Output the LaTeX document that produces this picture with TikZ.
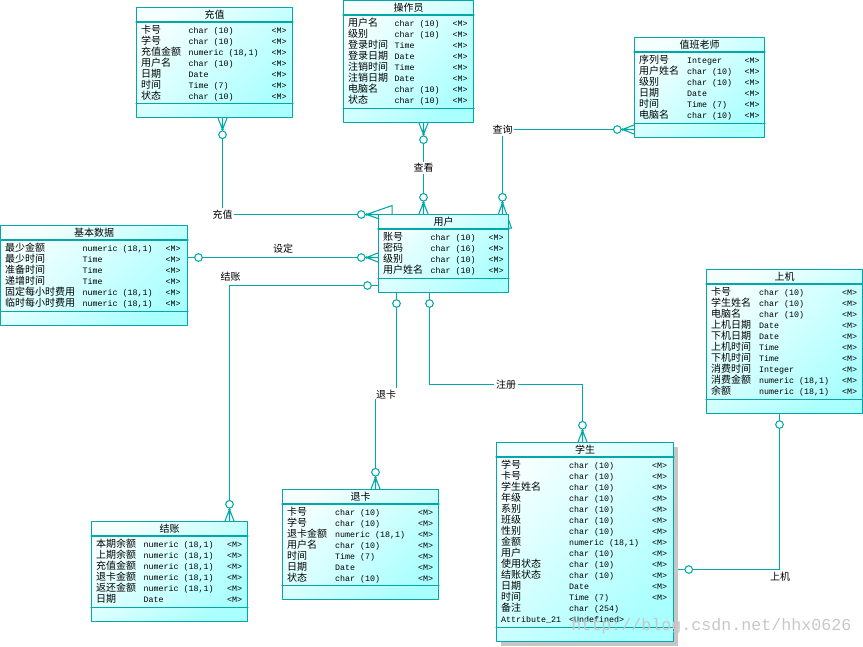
\documentclass[tikz,border=0pt]{standalone}
\usepackage{fontspec}
\setmonofont{Liberation Mono}
\newfontfamily\cjk{Noto Sans CJK SC}
\usetikzlibrary{calc,fit,backgrounds}
\definecolor{erline}{RGB}{0,168,168}
\definecolor{erlight}{RGB}{245,255,255}
\definecolor{erdeep}{RGB}{170,255,255}
\newcommand{\cjktxt}{\fontsize{7.5pt}{9pt}\selectfont\cjk}
\newcommand{\ttrow}{\fontsize{6.25pt}{8pt}\selectfont\ttfamily}
\tikzset{
	entbox/.style={draw=erline,thick,inner sep=0pt,top color=erlight,bottom color=erdeep,shading angle=45},
	rowtxt/.style={anchor=west,inner sep=0pt,text height=6.7pt,text depth=1pt},
	reltxt/.style={font=\cjktxt,inner sep=1pt},
	relline/.style={draw=erline,thick},
	crowo/.pic={\draw[relline] (0,0)--(11.5,0) (0,-4.5)--(11.5,0)--(0,4.5);
		\fill[erline] (11.5,0) circle [radius=1.3];
		\draw[relline,fill=white] (16.7,0) circle [radius=3.8];},
	crowwide/.pic={\draw[relline] (0,0)--(11.5,0) (-14.2,-9)--(11.5,0)--(-14.2,9)--cycle;
		\fill[erline] (11.5,0) circle [radius=1.3];
		\draw[relline,fill=white] (16.7,0) circle [radius=3.8];},
	circo/.pic={\draw[relline,fill=white] (10.5,0) circle [radius=3.8];}
}
% name, top left, bottom right, title, column offsets, rows
\newcommand{\entity}[9]{
	\node[entbox,fit={(#2,#3)(#4,#5)}] (#1) {};
	\draw[relline] ($(#1.north west)+(0,15)$)--($(#1.north east)+(0,15)$);
	\draw[relline] ($(#1.south west)+(0,-15)$)--($(#1.south east)+(0,-15)$);
	\node[font=\cjktxt,inner sep=0pt] (#1-t) at ($(#1.north)+(0,7.5)$) {#6};
	\foreach \nm/\tp/\mk [count=\ri] in {#9}{
		\node[rowtxt,font=\cjktxt] (#1-n\ri) at ($(#1.north west)+(5,{22.5+11*(\ri-1)})$) {\nm};
		\node[rowtxt,font=\ttrow] (#1-c\ri) at ($(#1.north west)+(#7,{22.5+11*(\ri-1)})$) {\tp};
		\node[rowtxt,font=\ttrow] (#1-m\ri) at ($(#1.north west)+(#8,{22.5+11*(\ri-1)})$) {\mk};
	}
}
\begin{document}
\begin{tikzpicture}[line join=round,line cap=round,x=0.75pt,y=-0.75pt]
	\useasboundingbox (0,0) rectangle (863,646);
	\entity{chongzhi}{136.5}{7.5}{292.5}{117.5}{充值}{52.5}{135.5}{
		卡号/char (10)/<M>,学号/char (10)/<M>,充值金额/{numeric (18,1)}/<M>,用户名/char (10)/<M>,
		日期/Date/<M>,时间/Time (7)/<M>,状态/char (10)/<M>}
	\entity{caozuo}{343.5}{0.5}{473.5}{122.5}{操作员}{51.5}{109.5}{
		用户名/char (10)/<M>,级别/char (10)/<M>,登录时间/Time/<M>,登录日期/Date/<M>,
		注销时间/Time/<M>,注销日期/Date/<M>,电脑名/char (10)/<M>,状态/char (10)/<M>}
	\entity{zhiban}{634.5}{37.5}{764.5}{137.5}{值班老师}{53}{110.5}{
		序列号/Integer/<M>,用户姓名/char (10)/<M>,级别/char (10)/<M>,日期/Date/<M>,
		时间/Time (7)/<M>,电脑名/char (10)/<M>}
	\entity{yonghu}{378.5}{214.5}{508.5}{292.5}{用户}{52.5}{110.5}{
		账号/char (10)/<M>,密码/char (16)/<M>,级别/char (10)/<M>,用户姓名/char (10)/<M>}
	\entity{jiben}{0.5}{225.5}{187.5}{325.5}{基本数据}{82.5}{165.5}{
		最少金额/{numeric (18,1)}/<M>,最少时间/Time/<M>,准备时间/Time/<M>,递增时间/Time/<M>,
		固定每小时费用/{numeric (18,1)}/<M>,临时每小时费用/{numeric (18,1)}/<M>}
	\entity{jiezhang}{91.5}{521.5}{247.5}{621.5}{结账}{52.5}{136}{
		本期余额/{numeric (18,1)}/<M>,上期余额/{numeric (18,1)}/<M>,充值金额/{numeric (18,1)}/<M>,
		退卡金额/{numeric (18,1)}/<M>,返还金额/{numeric (18,1)}/<M>,日期/Date/<M>}
	\entity{tuika}{282.5}{489.5}{438.5}{599.5}{退卡}{53}{136}{
		卡号/char (10)/<M>,学号/char (10)/<M>,退卡金额/{numeric (18,1)}/<M>,用户名/char (10)/<M>,
		时间/Time (7)/<M>,日期/Date/<M>,状态/char (10)/<M>}
	\fill[gray!45] (500.5,447) rectangle (678,646);
	\entity{xuesheng}{496.5}{442.5}{673.5}{641.5}{学生}{73}{156}{
		学号/char (10)/<M>,卡号/char (10)/<M>,学生姓名/char (10)/<M>,年级/char (10)/<M>,
		系别/char (10)/<M>,班级/char (10)/<M>,性别/char (10)/<M>,金额/{numeric (18,1)}/<M>,
		用户/char (10)/<M>,使用状态/char (10)/<M>,结账状态/char (10)/<M>,日期/Date/<M>,
		时间/Time (7)/<M>,备注/char (254)/{},{\ttrow Attribute\_21}/<Undefined>/{}}
	\entity{shangji}{706.5}{269.5}{862.5}{413.5}{上机}{53}{136}{
		卡号/char (10)/<M>,学生姓名/char (10)/<M>,电脑名/char (10)/<M>,上机日期/Date/<M>,
		下机日期/Date/<M>,上机时间/Time/<M>,下机时间/Time/<M>,消费时间/Integer/<M>,
		消费金额/{numeric (18,1)}/<M>,余额/{numeric (18,1)}/<M>}
	\node[reltxt] (lblcz) at (222.5,214.5) {充值};
	\node[reltxt] (lblck) at (423.5,168) {查看};
	\node[reltxt] (lblcx) at (502.5,129.5) {查询};
	\node[reltxt] (lblsd) at (283,249) {设定};
	\node[reltxt] (lbljz) at (230.5,277) {结账};
	\node[reltxt] (lbltk) at (386,394.5) {退卡};
	\node[reltxt] (lblzc) at (506,384.5) {注册};
	\node[reltxt] (lblsj) at (780,577) {上机};
	\coordinate (sd) at (283,257.5);
	\coordinate (jz) at (229.5,285.5);
	\coordinate (tka) at (396.5,388);
	\coordinate (tkb) at (375.5,399);
	\coordinate (zca) at (429.5,384.5);
	\coordinate (zcb) at (582.5,384.5);
	\coordinate (sj) at (779.5,569.5);
	\begin{scope}[on background layer]
		\draw[relline] (chongzhi.south -| lblcz)--(lblcz)--(lblcz -| yonghu.west);
		\draw[relline] (caozuo.south -| lblck)--(lblck)--(lblck |- yonghu.north);
		\draw[relline] (lblcx -| zhiban.west)--(lblcx)--(lblcx |- yonghu.north);
		\draw[relline] (sd -| jiben.east)--(sd -| yonghu.west);
		\draw[relline] (jz -| yonghu.west)--(jz)--(jz |- jiezhang.north);
		\draw[relline] (tka |- yonghu.south)--(tka);
		\draw[relline] (tkb)--(tkb |- tuika.north);
		\draw[relline] (zca |- yonghu.south)--(zca)--(lblzc)--(zcb)--(zcb |- xuesheng.north);
		\draw[relline] (sj |- shangji.south)--(sj)--(sj -| xuesheng.east);
		\pic[rotate=-90] at (chongzhi.south -| lblcz) {crowo};
		\pic[rotate=180] at (lblcz -| yonghu.west) {crowwide};
		\pic[rotate=-90] at (caozuo.south -| lblck) {crowo};
		\pic[rotate=90] at (lblck |- yonghu.north) {crowo};
		\pic[rotate=90] at (lblcx |- yonghu.north) {crowwide};
		\pic[rotate=180] at (lblcx -| zhiban.west) {crowo};
		\pic[rotate=180] at (sd -| yonghu.west) {crowo};
		\pic at (sd -| jiben.east) {circo};
		\pic[rotate=180] at (jz -| yonghu.west) {circo};
		\pic[rotate=90] at (jz |- jiezhang.north) {crowo};
		\pic[rotate=-90] at (tka |- yonghu.south) {circo};
		\pic[rotate=90] at (tkb |- tuika.north) {crowo};
		\pic[rotate=-90] at (zca |- yonghu.south) {circo};
		\pic[rotate=90] at (zcb |- xuesheng.north) {crowo};
		\pic[rotate=-90] at (sj |- shangji.south) {circo};
		\pic at ($(sj -| xuesheng.east)+(4.2,0)$) {circo};
	\end{scope}
	\node[anchor=west,inner sep=0pt,text=black!22,font=\fontsize{12.5pt}{14pt}\selectfont\ttfamily] (wmark) at (571,626.5) {http://blog.csdn.net/hhx0626};
\end{tikzpicture}
\end{document}
